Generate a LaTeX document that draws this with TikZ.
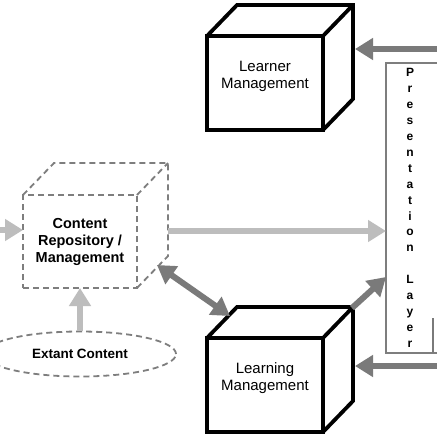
\documentclass[tikz,border=0pt]{standalone}
\usepackage{fontspec}
\setmainfont{Liberation Sans}
\usetikzlibrary{arrows.meta,positioning,shapes.geometric}
\definecolor{darkarrow}{HTML}{7A7A7A}
\definecolor{lightarrow}{HTML}{BDBDBD}
\definecolor{boxgray}{HTML}{7E7E7E}

\begin{document}
\begin{tikzpicture}[x=1pt,y=-1pt,
  cube/.style={draw,line width=3.8pt,line join=miter,outer sep=0pt,inner sep=0pt,
    minimum width=116pt,minimum height=94pt,align=center,font=\fontsize{15}{17}\selectfont},
  cubeline/.style={line width=3.8pt,line join=miter},
  ghostcube/.style={draw=boxgray,dash pattern=on 6pt off 4pt,line width=1.8pt,outer sep=0pt,
    inner sep=0pt,minimum width=114pt,minimum height=93pt,align=center,
    font=\bfseries\fontsize{14.5}{17}\selectfont},
  ghostline/.style={draw=boxgray,dash pattern=on 6pt off 4pt,line width=1.8pt},
  darkarr/.style={darkarrow,line width=6pt,-{Triangle[length=18pt,width=21pt]}},
  lightarr/.style={lightarrow,line width=6pt,-{Triangle[length=18pt,width=21pt]}}]
\useasboundingbox (0,0) rectangle (437,437);
\clip (0,0) rectangle (437,437);
\fill[white] (0,0) rectangle (437,437);
% cubes
\node[cube] (learner) at (265,83) {Learner\\Management\\\mbox{}};
\draw[cubeline] (learner.north west) -- ++(30,-31) -- ++(116,0) -- ++(0,94) -- (learner.south east)
  (learner.north east) -- ++(30,-31);
\node[cube] (learning) at (265,385) {Learning\\Management\\\mbox{}};
\draw[cubeline] (learning.north west) -- ++(30,-31) -- ++(116,0) -- ++(0,94) -- (learning.south east)
  (learning.north east) -- ++(30,-31);
\node[ghostcube] (content) at (80,241.5) {Content\\Repository /\\Management};
\draw[ghostline] (content.north west) -- ++(31,-32) -- ++(114,0) -- ++(0,93) -- (content.south east)
  (content.north east) -- ++(31,-32);
\node[ellipse,draw=boxgray,dash pattern=on 6pt off 4pt,line width=1.8pt,minimum width=192pt,
  minimum height=45pt,inner sep=0pt,font=\bfseries\fontsize{13.5}{16}\selectfont] (extant) at (80,354) {Extant Content};
% presentation layer
\node[draw=boxgray,line width=1.2pt,minimum width=59pt,minimum height=290pt,inner sep=0pt,outer sep=0pt] (pres) at (415.5,208) {};
\node[align=center,font=\bfseries\fontsize{12}{15.9}\selectfont] (prestext) at (410,208)
  {P\\r\\e\\s\\e\\n\\t\\a\\t\\i\\o\\n\\\mbox{}\\L\\a\\y\\e\\r};
\draw[darkarrow,line width=1.6pt] (433,318) -- (433,353);
% arrows
\coordinate (rin1) at (445,49);
\coordinate (rin2) at (445,366);
\coordinate (lin) at (-5,230);
\coordinate (crout) at ([xshift=31pt,yshift=10.5pt]content.east);
\draw[darkarr] (rin1) -- ([xshift=32pt,yshift=34pt]learner.east);
\draw[darkarr] (rin2) -- ([xshift=32pt,yshift=19pt]learning.east);
\draw[lightarr] (lin) -- ([yshift=11.5pt]content.west);
\draw[lightarr] (extant.north) -- (content.south);
\draw[lightarr] (crout) -- (crout -| pres.west);
\draw[darkarr,{Triangle[length=18pt,width=21pt]}-{Triangle[length=18pt,width=21pt]}]
  ([xshift=20pt,yshift=23pt]content.south east) -- ([xshift=23pt,yshift=22pt]learning.north west);
\draw[darkarr] ([xshift=29pt,yshift=30pt]learning.north east) -- ([yshift=-69pt]pres.west);
\end{tikzpicture}
\end{document}
